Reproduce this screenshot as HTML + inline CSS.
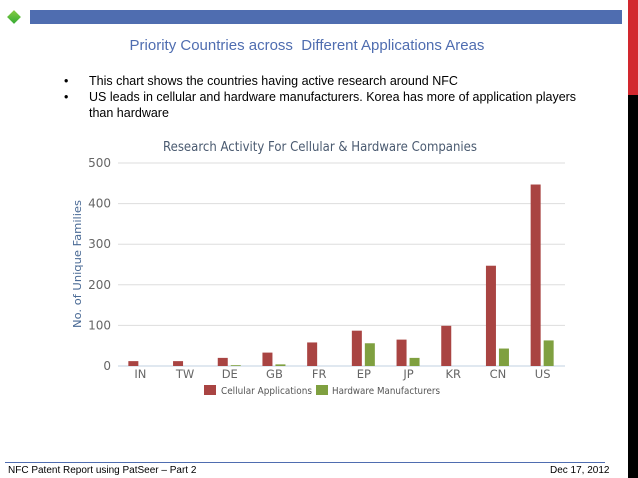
<!DOCTYPE html>
<html><head><meta charset="utf-8"><style>
body{margin:0;width:638px;height:478px;background:#fff;position:relative;overflow:hidden;font-family:"Liberation Sans",sans-serif}
.a{position:absolute}
</style></head><body>
<div class="a" style="left:7px;top:10px;width:14px;height:14px;background:linear-gradient(135deg,#8c4,#3a3);transform:rotate(45deg) scale(.7)"></div>
<div class="a" style="left:30px;top:10px;width:592px;height:14px;background:#4f6db0"></div>
<div class="a" style="left:628px;top:0;width:10px;height:95px;background:#d2282e"></div>
<div class="a" style="left:628px;top:95px;width:10px;height:383px;background:#000"></div>
<div class="a" style="left:0;width:614px;top:37px;text-align:center;font-size:15px;color:#4f6db0">Priority Countries across &nbsp;Different Applications Areas</div>
<div class="a" style="left:64px;top:73px;font-size:12.5px;line-height:16px;color:#000;width:540px">
<div style="position:relative;padding-left:25px"><span style="position:absolute;left:0">•</span>This chart shows the countries having active research around NFC</div>
<div style="position:relative;padding-left:25px;white-space:nowrap"><span style="position:absolute;left:0">•</span>US leads in cellular and hardware manufacturers. Korea has more of application players<br>than hardware</div>
</div>
<svg class="a" style="left:0;top:0" width="638" height="478">
<g id="g"></g></svg>
<div class="a" style="left:5px;top:462px;width:600px;height:1px;background:#4f6db0"></div>
<div class="a" style="left:8px;top:465px;font-size:10px">NFC Patent Report using PatSeer – Part 2</div>
<div class="a" style="left:550px;top:465px;font-size:10px">Dec 17, 2012</div>
<script>
const categories=["IN","TW","DE","GB","FR","EP","JP","KR","CN","US"];
const cellular=[12,12,20,33,58,87,65,99,247,447];
const hardware=[0,0,2,4,0,56,20,0,43,63];
const yTicks=[0,100,200,300,400,500];
const NS="http://www.w3.org/2000/svg";
const g=document.getElementById('g');
const L=118,R=565,T=163,B=366,ymax=500;
const y=v=>B-(v/ymax)*(B-T);
const bw=(R-L)/categories.length;
const xc=i=>L+bw*(i+0.5);
function mk(t,a,txt){const e=document.createElementNS(NS,t);for(const k in a)e.setAttribute(k,a[k]);if(txt!=null)e.textContent=txt;g.appendChild(e);return e;}
const title=mk('text',{x:163,y:151,textLength:314,lengthAdjust:'spacingAndGlyphs','font-size':13,fill:'#4a5a70','font-family':'DejaVu Sans, sans-serif'},'Research Activity For Cellular & Hardware Companies');


yTicks.forEach(t=>{
const ln=mk('line',{x1:118,x2:565,y1:y(t),y2:y(t),stroke:t?'#ddd':'#c0d0e0'});


const tx=mk('text',{x:111,y:y(t)+4,'text-anchor':'end','font-size':12,fill:'#666','font-family':'DejaVu Sans, sans-serif'},t);


});
const yt=mk('text',{transform:'translate(81,264) rotate(-90)','text-anchor':'middle','font-size':11,textLength:128,lengthAdjust:'spacingAndGlyphs',fill:'#4a6a95','font-family':'DejaVu Sans, sans-serif'},'No. of Unique Families');


categories.forEach((c,i)=>{
const cx=xc(i);
const r=mk('rect',{x:cx-12,y:y(cellular[i]),width:10,height:B-y(cellular[i]),fill:'#a94442'});


const h=mk('rect',{x:cx+1,y:y(hardware[i]),width:10,height:B-y(hardware[i]),fill:'#7fa040'});


const t=mk('text',{x:cx,y:378,'text-anchor':'middle','font-size':11.5,fill:'#666','font-family':'DejaVu Sans, sans-serif'},c);


});
const l1=mk('rect',{x:204,y:385,width:12,height:10,fill:'#a94442'});


const l1t=mk('text',{x:221,y:394,textLength:91,lengthAdjust:'spacingAndGlyphs','font-size':9.5,fill:'#555','font-family':'DejaVu Sans, sans-serif'},'Cellular Applications');


const l2=mk('rect',{x:316,y:385,width:12,height:10,fill:'#7fa040'});


const l2t=mk('text',{x:332,y:394,textLength:108,lengthAdjust:'spacingAndGlyphs','font-size':9.5,fill:'#555','font-family':'DejaVu Sans, sans-serif'},'Hardware Manufacturers');


</script>
</body></html>
